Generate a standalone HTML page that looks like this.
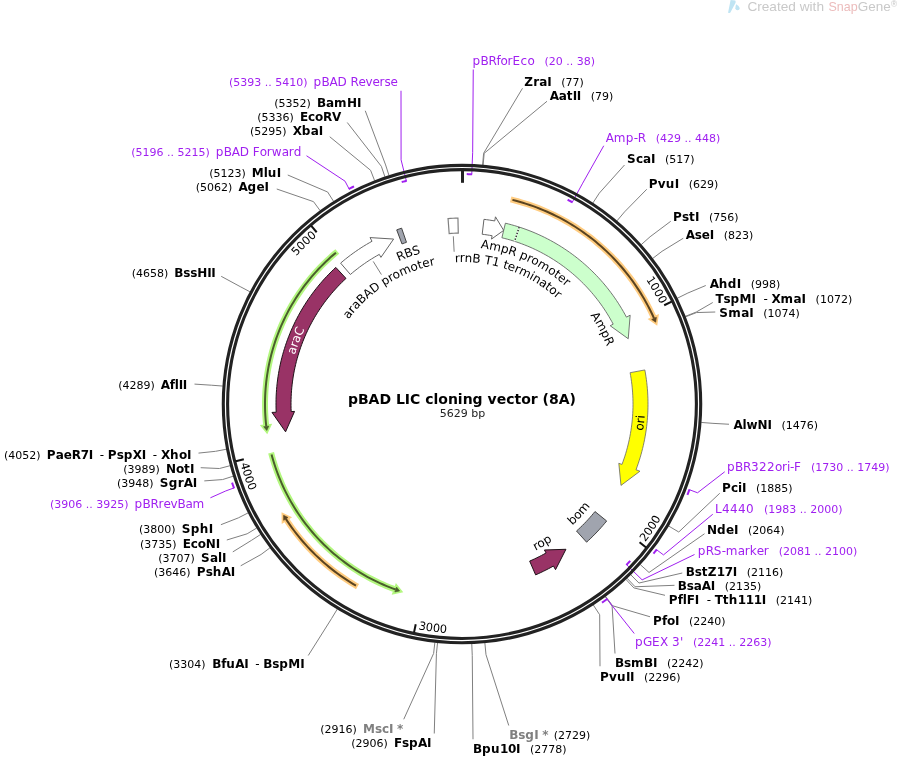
<!DOCTYPE html>
<html lang="en">
<head>
<meta charset="utf-8">
<title>pBAD LIC cloning vector (8A)</title>
<style>
html,body{margin:0;padding:0;background:#fff;}
body{width:898px;height:757px;overflow:hidden;}
svg{display:block;font-family:'DejaVu Sans','Liberation Sans',sans-serif;}
text{white-space:pre;}
</style>
</head>
<body>
<svg width="898" height="757" viewBox="0 0 898 757">
<rect width="898" height="757" fill="#fff"/>
<polyline points="522.5,88.25 483.61,153.28 482.6,164.99" fill="none" stroke="#808080" stroke-width="1"/>
<text x="524.14 533.14 539.14 547.14" y="86" font-size="12" fill="#000" font-weight="bold">ZraI</text>
<text x="561.14" y="86" font-size="11" fill="#000">(77)</text>
<polyline points="547,101.25 484.17,153.33 483.13,165.03" fill="none" stroke="#808080" stroke-width="1"/>
<text x="549.64 558.64 566.64 572.64 576.64" y="100" font-size="12" fill="#000" font-weight="bold">AatII</text>
<text x="590.64" y="100" font-size="11" fill="#000">(79)</text>
<polyline points="624.5,165 599.32,193.11 592.91,202.96" fill="none" stroke="#808080" stroke-width="1"/>
<text x="627.06 636.06 643.06 651.06" y="163" font-size="12" fill="#000" font-weight="bold">ScaI</text>
<text x="665.06" y="163" font-size="11" fill="#000">(517)</text>
<polyline points="646.75,189.25 624.55,211.88 616.97,220.85" fill="none" stroke="#808080" stroke-width="1"/>
<text x="648.82 657.82 665.82 674.82" y="188" font-size="12" fill="#000" font-weight="bold">PvuI</text>
<text x="688.82" y="188" font-size="11" fill="#000">(629)</text>
<polyline points="670.75,221.25 650.07,236.77 641.29,244.58" fill="none" stroke="#808080" stroke-width="1"/>
<text x="673.07 682.07 689.07 695.07" y="221" font-size="12" fill="#000" font-weight="bold">PstI</text>
<text x="709.07" y="221" font-size="11" fill="#000">(756)</text>
<polyline points="683.25,238.25 662.05,251.29 652.71,258.43" fill="none" stroke="#808080" stroke-width="1"/>
<text x="685.84 694.84 701.84 709.84" y="239" font-size="12" fill="#000" font-weight="bold">AseI</text>
<text x="723.84" y="239" font-size="11" fill="#000">(823)</text>
<polyline points="705.75,285.5 687.89,293.03 677.35,298.21" fill="none" stroke="#808080" stroke-width="1"/>
<text x="709.84 718.84 727.84 736.84" y="288" font-size="12" fill="#000" font-weight="bold">AhdI</text>
<text x="750.84" y="288" font-size="11" fill="#000">(998)</text>
<polyline points="712.75,302.5 696.28,312.04 685.34,316.34" fill="none" stroke="#808080" stroke-width="1"/>
<text x="715.62 723.62 730.62 739.62 751.62" y="303" font-size="12" fill="#000" font-weight="bold">TspMI</text>
<text x="763.62" y="303" font-size="12" fill="#000">-</text>
<text x="771.62 780.62 793.62 801.62" y="303" font-size="12" fill="#000" font-weight="bold">XmaI</text>
<text x="815.62" y="303" font-size="11" fill="#000">(1072)</text>
<polyline points="715.25,312 696.49,312.57 685.54,316.84" fill="none" stroke="#808080" stroke-width="1"/>
<text x="719.31 728.31 741.31 749.31" y="317" font-size="12" fill="#000" font-weight="bold">SmaI</text>
<text x="763.31" y="317" font-size="11" fill="#000">(1074)</text>
<polyline points="729,424.25 712.96,423.35 701.24,422.45" fill="none" stroke="#808080" stroke-width="1"/>
<text x="733.59 742.59 746.59 757.59 767.59" y="429" font-size="12" fill="#000" font-weight="bold">AlwNI</text>
<text x="781.59" y="429" font-size="11" fill="#000">(1476)</text>
<polyline points="719.75,493.25 678.75,532 668.63,526.03" fill="none" stroke="#808080" stroke-width="1"/>
<text x="722.07 731.07 738.07 742.07" y="492" font-size="12" fill="#000" font-weight="bold">PciI</text>
<text x="756.07" y="492" font-size="11" fill="#000">(1885)</text>
<polyline points="704.5,533.75 649.04,572.48 640.31,564.61" fill="none" stroke="#808080" stroke-width="1"/>
<text x="707.07 717.07 726.07 734.07" y="534" font-size="12" fill="#000" font-weight="bold">NdeI</text>
<text x="748.07" y="534" font-size="11" fill="#000">(2064)</text>
<polyline points="682.25,573 638.96,583.04 630.7,574.69" fill="none" stroke="#808080" stroke-width="1"/>
<text x="685.82 694.82 701.82 707.82 716.82 724.82 732.82" y="576" font-size="12" fill="#000" font-weight="bold">BstZ17I</text>
<text x="746.82" y="576" font-size="11" fill="#000">(2116)</text>
<polyline points="674.5,585.3 635.12,586.76 627.04,578.23" fill="none" stroke="#808080" stroke-width="1"/>
<text x="677.82 686.82 693.82 701.82 710.82" y="590" font-size="12" fill="#000" font-weight="bold">BsaAI</text>
<text x="724.82" y="590" font-size="11" fill="#000">(2135)</text>
<polyline points="665,595.3 633.89,587.91 625.87,579.33" fill="none" stroke="#808080" stroke-width="1"/>
<text x="668.82 677.82 682.82 686.82 694.82" y="604" font-size="12" fill="#000" font-weight="bold">PflFI</text>
<text x="706.82" y="604" font-size="12" fill="#000">-</text>
<text x="714.82 722.82 728.82 737.82 745.82 753.82 761.82" y="604" font-size="12" fill="#000" font-weight="bold">Tth111I</text>
<text x="775.82" y="604" font-size="11" fill="#000">(2141)</text>
<polyline points="650,616.75 612.57,605.75 605.54,596.33" fill="none" stroke="#808080" stroke-width="1"/>
<text x="653.07 662.07 667.07 675.07" y="625" font-size="12" fill="#000" font-weight="bold">PfoI</text>
<text x="689.07" y="625" font-size="11" fill="#000">(2240)</text>
<polyline points="615,653.5 612.12,606.08 605.11,596.65" fill="none" stroke="#808080" stroke-width="1"/>
<text x="615.07 624.07 631.07 644.07 653.07" y="667" font-size="12" fill="#000" font-weight="bold">BsmBI</text>
<text x="667.07" y="667" font-size="11" fill="#000">(2242)</text>
<polyline points="600,666.25 599.68,614.76 593.25,604.92" fill="none" stroke="#808080" stroke-width="1"/>
<text x="600.07 609.07 617.07 626.07 630.07" y="681" font-size="12" fill="#000" font-weight="bold">PvuII</text>
<text x="644.07" y="681" font-size="11" fill="#000">(2296)</text>
<polyline points="508.75,725.5 485.98,654.6 484.87,642.91" fill="none" stroke="#808080" stroke-width="1"/>
<text x="509.32 518.32 525.32 534.32 538.32 542.32" y="739" font-size="12" fill="#808080" font-weight="bold">BsgI *</text>
<text x="553.72" y="739" font-size="11" fill="#000">(2729)</text>
<polyline points="473,739.25 472.25,655.54 471.77,643.8" fill="none" stroke="#808080" stroke-width="1"/>
<text x="473.07 482.07 491.07 500.07 508.07 516.07" y="753" font-size="12" fill="#000" font-weight="bold">Bpu10I</text>
<text x="530.07" y="753" font-size="11" fill="#000">(2778)</text>
<polyline points="434.25,733.5 436.41,653.74 437.54,642.75" fill="none" stroke="#808080" stroke-width="1"/>
<text x="351.25" y="747" font-size="11" fill="#000">(2906)</text>
<text x="393.88 401.88 408.88 417.88 426.88" y="747" font-size="12" fill="#000" font-weight="bold">FspAI</text>
<polyline points="403.75,719.25 433.62,653.44 434.87,642.46" fill="none" stroke="#808080" stroke-width="1"/>
<text x="320.25" y="733" font-size="11" fill="#000">(2916)</text>
<text x="362.88 374.88 381.88 388.88 392.88 396.88" y="733" font-size="12" fill="#808080" font-weight="bold">MscI *</text>
<polyline points="308.25,655.5 331.58,618.51 337.32,609.06" fill="none" stroke="#808080" stroke-width="1"/>
<text x="169.07" y="668" font-size="11" fill="#000">(3304)</text>
<text x="212.15 221.15 226.15 235.15 244.15" y="668" font-size="12" fill="#000" font-weight="bold">BfuAI</text>
<text x="255.15" y="668" font-size="12" fill="#000">-</text>
<text x="263.35 272.35 279.35 288.35 300.35" y="668" font-size="12" fill="#000" font-weight="bold">BspMI</text>
<polyline points="240.7,565.8 261.07,554.48 269.92,547.86" fill="none" stroke="#808080" stroke-width="1"/>
<text x="154" y="576" font-size="11" fill="#000">(3646)</text>
<text x="196.63 205.63 212.63 221.63 230.63" y="576" font-size="12" fill="#000" font-weight="bold">PshAI</text>
<polyline points="232.8,551.9 251.3,540.46 260.58,534.46" fill="none" stroke="#808080" stroke-width="1"/>
<text x="158.25" y="562" font-size="11" fill="#000">(3707)</text>
<text x="200.88 209.88 217.88 221.88" y="562" font-size="12" fill="#000" font-weight="bold">SalI</text>
<polyline points="226.8,540 247.14,533.81 256.6,528.1" fill="none" stroke="#808080" stroke-width="1"/>
<text x="140" y="548" font-size="11" fill="#000">(3735)</text>
<text x="182.63 190.63 197.63 205.63 215.63" y="548" font-size="12" fill="#000" font-weight="bold">EcoNI</text>
<polyline points="220.9,524.7 238.3,517.9 248.15,512.88" fill="none" stroke="#808080" stroke-width="1"/>
<text x="139" y="533" font-size="11" fill="#000">(3800)</text>
<text x="181.63 190.63 199.63 208.63" y="533" font-size="12" fill="#000" font-weight="bold">SphI</text>
<polyline points="204.3,480.9 222.63,479.56 233.17,476.23" fill="none" stroke="#808080" stroke-width="1"/>
<text x="117" y="487" font-size="11" fill="#000">(3948)</text>
<text x="159.63 168.63 177.63 183.63 192.63" y="487" font-size="12" fill="#000" font-weight="bold">SgrAI</text>
<polyline points="200.7,467.7 219.42,468.53 230.1,465.69" fill="none" stroke="#808080" stroke-width="1"/>
<text x="123.25" y="473" font-size="11" fill="#000">(3989)</text>
<text x="165.88 175.88 183.88 189.88" y="473" font-size="12" fill="#000" font-weight="bold">NotI</text>
<polyline points="198.5,453.1 215.49,451.32 226.34,449.24" fill="none" stroke="#808080" stroke-width="1"/>
<text x="4" y="459" font-size="11" fill="#000">(4052)</text>
<text x="46.63 55.63 63.63 71.63 80.63 88.63" y="459" font-size="12" fill="#000" font-weight="bold">PaeR7I</text>
<text x="99.63" y="459" font-size="12" fill="#000">-</text>
<text x="107.83 116.83 123.83 132.83 141.83" y="459" font-size="12" fill="#000" font-weight="bold">PspXI</text>
<text x="152.83" y="459" font-size="12" fill="#000">-</text>
<text x="161.03 170.03 179.03 187.03" y="459" font-size="12" fill="#000" font-weight="bold">XhoI</text>
<polyline points="194.5,384.1 211.71,385.23 222.73,386.05" fill="none" stroke="#808080" stroke-width="1"/>
<text x="118.2" y="389" font-size="11" fill="#000">(4289)</text>
<text x="160.83 169.83 174.83 178.83 182.83" y="389" font-size="12" fill="#000" font-weight="bold">AflII</text>
<polyline points="221.2,276.3 240.18,286.6 249.94,291.77" fill="none" stroke="#808080" stroke-width="1"/>
<text x="131.7" y="277" font-size="11" fill="#000">(4658)</text>
<text x="174.33 183.33 190.33 197.33 207.33 211.33" y="277" font-size="12" fill="#000" font-weight="bold">BssHII</text>
<polyline points="276.75,189 313.54,201.66 320.07,210.57" fill="none" stroke="#808080" stroke-width="1"/>
<text x="195.8" y="191" font-size="11" fill="#000">(5062)</text>
<text x="238.43 247.43 256.43 264.43" y="191" font-size="12" fill="#000" font-weight="bold">AgeI</text>
<polyline points="287.75,175 327.65,192.03 333.57,201.37" fill="none" stroke="#808080" stroke-width="1"/>
<text x="209.2" y="177" font-size="11" fill="#000">(5123)</text>
<text x="251.83 263.83 267.83 276.83" y="177" font-size="12" fill="#000" font-weight="bold">MluI</text>
<polyline points="329.75,136.75 370.58,170.29 374.6,180.58" fill="none" stroke="#808080" stroke-width="1"/>
<text x="250" y="135" font-size="11" fill="#000">(5295)</text>
<text x="292.63 301.63 310.63 318.63" y="135" font-size="12" fill="#000" font-weight="bold">XbaI</text>
<polyline points="347.25,122.5 381.37,166.35 384.92,176.82" fill="none" stroke="#808080" stroke-width="1"/>
<text x="257.25" y="121" font-size="11" fill="#000">(5336)</text>
<text x="299.88 307.88 314.88 322.88 331.88" y="121" font-size="12" fill="#000" font-weight="bold">EcoRV</text>
<polyline points="365.25,110.75 385.62,164.95 388.99,175.48" fill="none" stroke="#808080" stroke-width="1"/>
<text x="274.25" y="107" font-size="11" fill="#000">(5352)</text>
<text x="316.88 325.88 333.88 346.88 356.88" y="107" font-size="12" fill="#000" font-weight="bold">BamHI</text>
<polyline points="466.73,174.1 468.54,174.14 470.35,174.2 472.15,174.27" fill="none" stroke="#a020f0" stroke-width="2"/>
<polyline points="473.25,69.5 472.67,152.58 471.75,174.26" fill="none" stroke="#a020f0" stroke-width="1"/>
<text x="472.52 480.52 488.52 496.52 500.52 507.52 512.52 520.52 527.52" y="65" font-size="12" fill="#a020f0">pBRforEco</text>
<text x="544.52" y="65" font-size="11" fill="#a020f0">(20 .. 38)</text>
<polyline points="567.62,199.74 569.3,200.61 570.97,201.5 572.63,202.41" fill="none" stroke="#a020f0" stroke-width="2"/>
<polyline points="603.75,145.75 582.69,183.17 572.28,202.21" fill="none" stroke="#a020f0" stroke-width="1"/>
<text x="605.81 613.81 625.81 633.81 637.81" y="142" font-size="12" fill="#a020f0">Amp-R</text>
<text x="655.81" y="142" font-size="11" fill="#a020f0">(429 .. 448)</text>
<polyline points="689.54,489.34 688.84,491.19 688.12,493.04 687.38,494.89" fill="none" stroke="#a020f0" stroke-width="2"/>
<polyline points="724.75,471.75 697.54,492.78 689.4,489.71" fill="none" stroke="#a020f0" stroke-width="1"/>
<text x="727.07 735.07 743.07 751.07 759.07 767.07 775.07 782.07 787.07 790.07 794.07" y="471" font-size="12" fill="#a020f0">pBR322ori-F</text>
<text x="811.07" y="471" font-size="11" fill="#a020f0">(1730 .. 1749)</text>
<polyline points="656.76,549.37 655.68,550.81 654.58,552.24 653.48,553.67" fill="none" stroke="#a020f0" stroke-width="2"/>
<polyline points="712.75,514.25 663.49,554.9 656.52,549.69" fill="none" stroke="#a020f0" stroke-width="1"/>
<text x="714.98 721.98 729.98 737.98 745.98" y="513" font-size="12" fill="#a020f0">L4440</text>
<text x="763.98" y="513" font-size="11" fill="#a020f0">(1983 .. 2000)</text>
<polyline points="630.24,560.88 628.94,562.26 627.64,563.63 626.32,564.98" fill="none" stroke="#a020f0" stroke-width="2"/>
<polyline points="694.5,554.5 642.13,579.86 626.6,564.7" fill="none" stroke="#a020f0" stroke-width="1"/>
<text x="697.82 705.82 713.82 721.82 725.82 737.82 744.82 749.82 756.82 763.82" y="555" font-size="12" fill="#a020f0">pRS-marker</text>
<text x="778.82" y="555" font-size="11" fill="#a020f0">(2081 .. 2100)</text>
<polyline points="607.47,598.7 606.11,599.71 604.74,600.7 603.37,601.69 601.99,602.67" fill="none" stroke="#a020f0" stroke-width="2"/>
<polyline points="634.25,633.5 612.34,605.91 607.15,598.94" fill="none" stroke="#a020f0" stroke-width="1"/>
<text x="635.07 643.07 652.07 660.07 668.07 672.07 680.07" y="646" font-size="12" fill="#a020f0">pGEX 3&#39;</text>
<text x="693.07" y="646" font-size="11" fill="#a020f0">(2241 .. 2263)</text>
<polyline points="234.08,488.31 233.39,486.44 232.73,484.57 232.08,482.7" fill="none" stroke="#a020f0" stroke-width="2"/>
<polyline points="210.4,497.8 225.77,490.94 233.94,487.93" fill="none" stroke="#a020f0" stroke-width="1"/>
<text x="50" y="508" font-size="11" fill="#a020f0">(3906 .. 3925)</text>
<text x="134.61 142.61 150.61 158.61 163.61 170.61 177.61 185.61 192.61" y="508" font-size="12" fill="#a020f0">pBRrevBam</text>
<polyline points="348.72,189.07 350.48,188.15 352.24,187.25 354.02,186.36" fill="none" stroke="#a020f0" stroke-width="2"/>
<polyline points="306.5,155.75 345.03,181.18 349.07,188.88" fill="none" stroke="#a020f0" stroke-width="1"/>
<text x="131.2" y="156" font-size="11" fill="#a020f0">(5196 .. 5215)</text>
<text x="215.81 223.81 231.81 239.81 248.81 252.81 259.81 266.81 271.81 281.81 288.81 293.81" y="156" font-size="12" fill="#a020f0">pBAD Forward</text>
<polyline points="401.72,182.09 403.39,181.64 405.05,181.21 406.72,180.79" fill="none" stroke="#a020f0" stroke-width="2"/>
<polyline points="401,90.75 401.08,159.83 406.33,180.89" fill="none" stroke="#a020f0" stroke-width="1"/>
<text x="229" y="86" font-size="11" fill="#a020f0">(5393 .. 5410)</text>
<text x="313.61 321.61 329.61 337.61 346.61 350.61 358.61 365.61 372.61 379.61 384.61 390.61" y="86" font-size="12" fill="#a020f0">pBAD Reverse</text>
<circle cx="462.0" cy="404.05" r="238.7" fill="none" stroke="#222" stroke-width="3.1"/>
<circle cx="462.0" cy="404.05" r="234.4" fill="none" stroke="#222" stroke-width="3.1"/>
<line x1="462.5" y1="170.7" x2="462.5" y2="182.8" stroke="#222" stroke-width="3"/>
<line x1="671.65" y1="301.59" x2="664.2" y2="305.23" stroke="#111" stroke-width="2"/>
<path id="tk1000" d="M549.96,200.16 A222.04999999999998,222.04999999999998 0 0 1 660.43,304.4" fill="none"/>
<text font-size="11.3" fill="#000" text-anchor="end"><textPath href="#tk1000" startOffset="100%">1000</textPath></text>
<line x1="646.11" y1="547.42" x2="639.56" y2="542.32" stroke="#111" stroke-width="2"/>
<path id="tk2000" d="M645.16,542.25 A229.45,229.45 0 0 0 691.14,392.18" fill="none"/>
<text font-size="11.3" fill="#000" text-anchor="start"><textPath href="#tk2000" startOffset="0">2000</textPath></text>
<line x1="414.03" y1="632.42" x2="415.73" y2="624.29" stroke="#111" stroke-width="2"/>
<path id="tk3000" d="M418.26,629.29 A229.45,229.45 0 0 0 573.28,604.71" fill="none"/>
<text font-size="11.3" fill="#000" text-anchor="start"><textPath href="#tk3000" startOffset="0">3000</textPath></text>
<line x1="235.76" y1="461.22" x2="243.81" y2="459.19" stroke="#111" stroke-width="2"/>
<path id="tk4000" d="M240.43,463.65 A229.45,229.45 0 0 0 330.58,592.13" fill="none"/>
<text font-size="11.3" fill="#000" text-anchor="start"><textPath href="#tk4000" startOffset="0">4000</textPath></text>
<line x1="311.3" y1="225.89" x2="316.66" y2="232.23" stroke="#111" stroke-width="2"/>
<path id="tk5000" d="M242.78,368.73 A222.04999999999998,222.04999999999998 0 0 1 316.77,236.08" fill="none"/>
<text font-size="11.3" fill="#000" text-anchor="end"><textPath href="#tk5000" startOffset="100%">5000</textPath></text>
<path d="M510.69,199.46 L514.23,200.34 L517.74,201.27 L521.24,202.27 L524.73,203.32 L528.19,204.44 L531.64,205.61 L535.06,206.85 L538.46,208.14 L541.84,209.5 L545.2,210.91 L548.53,212.38 L551.83,213.9 L555.11,215.48 L558.36,217.12 L561.58,218.82 L564.77,220.57 L567.93,222.38 L571.06,224.24 L574.15,226.15 L577.21,228.12 L580.24,230.14 L583.23,232.21 L586.19,234.34 L589.11,236.51 L591.99,238.74 L594.83,241.01 L597.63,243.33 L600.39,245.7 L603.11,248.12 L605.79,250.59 L608.42,253.1 L611.02,255.66 L613.56,258.26 L616.06,260.9 L618.52,263.59 L620.92,266.32 L623.28,269.09 L625.59,271.9 L627.86,274.75 L630.07,277.64 L632.23,280.57 L634.34,283.54 L636.4,286.54 L638.41,289.57 L640.37,292.64 L642.27,295.75 L644.11,298.88 L645.91,302.05 L647.65,305.25 L649.33,308.47 L650.95,311.73 L652.52,315.02 L654.03,318.33" fill="none" stroke="#ffcc80" stroke-width="6" stroke-linecap="butt"/>
<path d="M656.41,317.27 L655.71,322.18 L651.66,319.39Z" fill="#ffcc80" stroke="#ffcc80" stroke-width="4" stroke-linejoin="miter"/>
<path d="M512.44,199.89 L515.93,200.78 L519.41,201.74 L522.87,202.75 L526.31,203.83 L529.74,204.96 L533.14,206.15 L536.52,207.4 L539.88,208.7 L543.22,210.07 L546.54,211.49 L549.82,212.97 L553.09,214.5 L556.32,216.09 L559.53,217.73 L562.71,219.43 L565.86,221.19 L568.98,223 L572.07,224.86 L575.13,226.77 L578.15,228.74 L581.14,230.75 L584.09,232.82 L587.01,234.94 L589.89,237.11 L592.74,239.32 L595.54,241.59 L598.31,243.9 L601.03,246.26 L603.72,248.67 L606.36,251.12 L608.96,253.62 L611.52,256.16 L614.03,258.75 L616.5,261.38 L618.92,264.05 L621.3,266.76 L623.63,269.51 L625.91,272.3 L628.15,275.13 L630.33,278 L632.47,280.9 L634.56,283.84 L636.59,286.82 L638.58,289.83 L640.51,292.87 L642.39,295.95 L644.22,299.06 L645.99,302.2 L647.71,305.37 L649.37,308.57 L650.98,311.79 L652.54,315.05 L654.03,318.33" fill="none" stroke="#5a4320" stroke-width="2"/>
<path d="M656.41,317.27 L655.71,322.18 L651.66,319.39Z" fill="#5a4320" stroke="#5a4320" stroke-width="0.6"/>
<path d="M357.51,586.56 L354.44,584.76 L351.41,582.92 L348.4,581.03 L345.43,579.08 L342.49,577.09 L339.58,575.05 L336.71,572.95 L333.87,570.81 L331.07,568.62 L328.31,566.39 L325.59,564.11 L322.91,561.78 L320.26,559.41 L317.66,556.99 L315.09,554.53 L312.57,552.03 L310.09,549.48 L307.66,546.9 L305.27,544.27 L302.92,541.6 L300.62,538.89 L298.37,536.15 L296.16,533.37 L294,530.55 L291.88,527.69 L289.82,524.8 L287.8,521.87 L285.84,518.91" fill="none" stroke="#ffcc80" stroke-width="6" stroke-linecap="butt"/>
<path d="M283.66,520.33 L283.58,515.37 L288.02,517.49Z" fill="#ffcc80" stroke="#ffcc80" stroke-width="4" stroke-linejoin="miter"/>
<path d="M355.95,585.65 L352.85,583.8 L349.77,581.9 L346.73,579.94 L343.72,577.93 L340.74,575.87 L337.81,573.76 L334.91,571.6 L332.04,569.39 L329.22,567.13 L326.43,564.82 L323.69,562.47 L320.98,560.06 L318.32,557.61 L315.7,555.12 L313.12,552.58 L310.59,550 L308.1,547.37 L305.66,544.7 L303.26,541.99 L300.91,539.24 L298.61,536.45 L296.36,533.62 L294.15,530.75 L292,527.85 L289.89,524.9 L287.84,521.93 L285.84,518.91" fill="none" stroke="#5a4320" stroke-width="2"/>
<path d="M283.66,520.33 L283.58,515.37 L288.02,517.49Z" fill="#5a4320" stroke="#5a4320" stroke-width="0.6"/>
<path d="M337.34,251.51 L334.73,253.68 L332.16,255.89 L329.63,258.15 L327.13,260.45 L324.68,262.8 L322.27,265.18 L319.9,267.61 L317.57,270.08 L315.28,272.59 L313.04,275.13 L310.84,277.72 L308.69,280.34 L306.58,283 L304.52,285.7 L302.5,288.43 L300.53,291.19 L298.61,293.99 L296.74,296.82 L294.92,299.68 L293.15,302.58 L291.42,305.5 L289.75,308.45 L288.13,311.43 L286.56,314.44 L285.04,317.48 L283.58,320.54 L282.17,323.62 L280.81,326.73 L279.5,329.87 L278.25,333.02 L277.05,336.2 L275.91,339.39 L274.83,342.61 L273.8,345.84 L272.82,349.09 L271.9,352.36 L271.04,355.64 L270.24,358.94 L269.49,362.25 L268.8,365.57 L268.16,368.9 L267.58,372.25 L267.07,375.6 L266.6,378.96 L266.2,382.33 L265.86,385.71 L265.57,389.09 L265.34,392.47 L265.17,395.86 L265.06,399.25 L265,402.65 L265.01,406.04 L265.07,409.43 L265.2,412.83 L265.38,416.21 L265.61,419.6 L265.91,422.98 L266.27,426.35" fill="none" stroke="#b3f77f" stroke-width="6" stroke-linecap="butt"/>
<path d="M263.68,426.65 L266.79,430.52 L268.85,426.06Z" fill="#b3f77f" stroke="#b3f77f" stroke-width="4" stroke-linejoin="miter"/>
<path d="M335.95,252.65 L333.34,254.87 L330.77,257.12 L328.24,259.42 L325.75,261.77 L323.3,264.16 L320.89,266.59 L318.52,269.06 L316.2,271.57 L313.92,274.12 L311.69,276.71 L309.5,279.34 L307.35,282.01 L305.26,284.71 L303.21,287.45 L301.21,290.23 L299.26,293.04 L297.35,295.88 L295.5,298.76 L293.7,301.67 L291.94,304.6 L290.24,307.57 L288.59,310.57 L286.99,313.6 L285.45,316.65 L283.96,319.73 L282.52,322.83 L281.14,325.96 L279.81,329.12 L278.53,332.29 L277.32,335.49 L276.15,338.71 L275.05,341.94 L274,345.2 L273,348.47 L272.07,351.76 L271.19,355.07 L270.36,358.39 L269.6,361.73 L268.89,365.07 L268.25,368.43 L267.66,371.8 L267.13,375.18 L266.65,378.57 L266.24,381.97 L265.89,385.37 L265.59,388.78 L265.36,392.19 L265.18,395.61 L265.06,399.03 L265.01,402.45 L265.01,405.87 L265.07,409.29 L265.19,412.71 L265.37,416.13 L265.61,419.54 L265.91,422.95 L266.27,426.35" fill="none" stroke="#4a5e2c" stroke-width="2"/>
<path d="M263.68,426.65 L266.79,430.52 L268.85,426.06Z" fill="#4a5e2c" stroke="#4a5e2c" stroke-width="0.6"/>
<path d="M271.1,452.7 L271.96,455.97 L272.88,459.22 L273.86,462.46 L274.89,465.68 L275.97,468.88 L277.11,472.06 L278.31,475.22 L279.55,478.36 L280.86,481.48 L282.21,484.58 L283.62,487.65 L285.08,490.7 L286.59,493.72 L288.16,496.72 L289.77,499.69 L291.44,502.63 L293.15,505.54 L294.92,508.42 L296.73,511.27 L298.6,514.09 L300.51,516.88 L302.47,519.63 L304.48,522.35 L306.53,525.04 L308.63,527.68 L310.77,530.3 L312.96,532.87 L315.19,535.41 L317.47,537.91 L319.78,540.37 L322.14,542.79 L324.54,545.17 L326.98,547.51 L329.47,549.8 L331.99,552.05 L334.54,554.26 L337.14,556.43 L339.77,558.55 L342.44,560.62 L345.14,562.65 L347.88,564.63 L350.65,566.56 L353.46,568.45 L356.29,570.29 L359.16,572.08 L362.06,573.82 L364.99,575.51 L367.94,577.15 L370.93,578.73 L373.94,580.27 L376.97,581.76 L380.03,583.19 L383.12,584.57 L386.23,585.89 L389.36,587.17 L392.51,588.39 L395.68,589.55" fill="none" stroke="#b3f77f" stroke-width="6" stroke-linecap="butt"/>
<path d="M394.81,592 L399.65,590.92 L396.56,587.1Z" fill="#b3f77f" stroke="#b3f77f" stroke-width="4" stroke-linejoin="miter"/>
<path d="M271.55,454.44 L272.45,457.73 L273.41,461 L274.43,464.26 L275.49,467.49 L276.62,470.71 L277.8,473.9 L279.04,477.08 L280.33,480.23 L281.67,483.37 L283.07,486.47 L284.52,489.56 L286.03,492.61 L287.59,495.64 L289.2,498.65 L290.86,501.62 L292.57,504.57 L294.34,507.48 L296.15,510.37 L298.02,513.22 L299.93,516.04 L301.89,518.83 L303.9,521.58 L305.96,524.3 L308.06,526.98 L310.21,529.63 L312.41,532.23 L314.65,534.8 L316.93,537.33 L319.26,539.82 L321.63,542.27 L324.04,544.68 L326.49,547.04 L328.99,549.36 L331.52,551.64 L334.09,553.88 L336.7,556.07 L339.35,558.21 L342.04,560.31 L344.76,562.36 L347.51,564.37 L350.3,566.32 L353.13,568.23 L355.98,570.09 L358.87,571.9 L361.79,573.66 L364.74,575.37 L367.72,577.02 L370.73,578.63 L373.76,580.18 L376.82,581.68 L379.9,583.13 L383.01,584.52 L386.15,585.86 L389.3,587.15 L392.48,588.38 L395.68,589.55" fill="none" stroke="#4a5e2c" stroke-width="2"/>
<path d="M394.81,592 L399.65,590.92 L396.56,587.1Z" fill="#4a5e2c" stroke="#4a5e2c" stroke-width="0.6"/>
<path d="M335.81,267.4 L333.45,269.62 L331.14,271.87 L328.86,274.17 L326.62,276.5 L324.43,278.87 L322.27,281.28 L320.16,283.73 L318.09,286.22 L316.06,288.73 L314.08,291.29 L312.14,293.88 L310.25,296.5 L308.4,299.15 L306.6,301.84 L304.85,304.56 L303.14,307.3 L301.48,310.08 L299.88,312.88 L298.32,315.71 L296.8,318.57 L295.34,321.46 L293.93,324.37 L292.57,327.3 L291.26,330.26 L290.01,333.24 L288.8,336.24 L287.65,339.26 L286.55,342.3 L285.5,345.36 L284.51,348.43 L283.57,351.53 L282.68,354.64 L281.85,357.76 L281.07,360.9 L280.35,364.05 L279.68,367.21 L279.07,370.39 L278.51,373.57 L278.01,376.77 L277.57,379.97 L277.17,383.18 L276.84,386.4 L276.56,389.62 L276.34,392.84 L276.17,396.07 L276.06,399.3 L276.01,402.54 L276.01,405.77 L276.07,409 L276.18,412.23 L271.98,412.42 L285.57,431.8 L294.56,411.42 L291.17,411.57 L291.06,408.6 L291.01,405.63 L291.01,402.66 L291.06,399.69 L291.16,396.71 L291.31,393.75 L291.52,390.78 L291.77,387.82 L292.08,384.86 L292.44,381.91 L292.85,378.97 L293.31,376.03 L293.82,373.1 L294.39,370.18 L295,367.28 L295.67,364.38 L296.38,361.49 L297.14,358.62 L297.96,355.76 L298.82,352.92 L299.74,350.09 L300.7,347.28 L301.71,344.48 L302.77,341.7 L303.88,338.95 L305.03,336.21 L306.24,333.49 L307.49,330.79 L308.78,328.12 L310.13,325.47 L311.52,322.84 L312.95,320.23 L314.43,317.66 L315.95,315.1 L317.52,312.58 L319.13,310.08 L320.79,307.61 L322.49,305.17 L324.23,302.76 L326.01,300.38 L327.83,298.03 L329.69,295.72 L331.6,293.43 L333.54,291.18 L335.52,288.97 L337.54,286.79 L339.6,284.64 L341.69,282.53 L343.82,280.46 L345.99,278.42Z" fill="#993366" stroke="#1f1218" stroke-width="1" stroke-linejoin="miter" />
<path id="lp1" d="M372.49,553.61 A174.3,174.3 0 0 1 494.96,232.89" fill="none" stroke="none"/>
<text font-size="12" fill="#fff" text-anchor="middle"><textPath href="#lp1" startOffset="50%">araC</textPath></text>
<path d="M340.61,263.12 L343.05,261.06 L345.53,259.03 L348.03,257.05 L350.58,255.12 L353.15,253.23 L355.76,251.38 L358.4,249.58 L361.06,247.82 L363.76,246.11 L366.49,244.44 L369.25,242.83 L372.03,241.26 L370,237.58 L393.62,239.06 L380.93,257.36 L379.29,254.39 L376.73,255.83 L374.19,257.32 L371.69,258.85 L369.2,260.42 L366.75,262.03 L364.33,263.69 L361.93,265.39 L359.56,267.13 L357.23,268.91 L354.92,270.73 L352.64,272.59 L350.4,274.49Z" fill="#ffffff" stroke="#666" stroke-width="1" stroke-linejoin="miter" />
<line x1="373.22" y1="261.42" x2="381.41" y2="274.58" stroke="#808080" stroke-width="1"/>
<path id="lp2" d="M330.9,457.29 A141.5,141.5 0 0 1 566.99,309.18" fill="none" stroke="none"/>
<text font-size="12" fill="#000" text-anchor="middle"><textPath href="#lp2" startOffset="50%">araBAD promoter</textPath></text>
<path d="M396.71,229.89 L399.15,228.99 L401.6,228.13 L406.47,242.32 L404.22,243.11 L401.97,243.93Z" fill="#a0a4ae" stroke="#444" stroke-width="1"/>
<path id="lp3" d="M307.89,430.12 A156.3,156.3 0 0 1 597.9,326.85" fill="none" stroke="none"/>
<text font-size="12" fill="#000" text-anchor="middle"><textPath href="#lp3" startOffset="50%">RBS</textPath></text>
<path d="M448.05,218.57 L450.52,218.4 L453,218.27 L455.47,218.16 L457.94,218.09 L458.27,233.09 L455.99,233.16 L453.72,233.25 L451.45,233.38 L449.18,233.53Z" fill="#ffffff" stroke="#808080" stroke-width="1.2"/>
<line x1="453.32" y1="236.27" x2="454.13" y2="251.75" stroke="#808080" stroke-width="1"/>
<path id="lp4" d="M338.65,333.69 A142,142 0 0 1 601.97,427.98" fill="none" stroke="none"/>
<text font-size="12" fill="#000" text-anchor="middle"><textPath href="#lp4" startOffset="50%">rrnB T1 terminator</textPath></text>
<path d="M483.96,219.35 L486.66,219.69 L489.36,220.07 L492.05,220.49 L494.74,220.95 L495.47,216.82 L503.68,230.38 L491.5,239.07 L492.1,235.72 L489.63,235.3 L487.15,234.91 L484.67,234.56 L482.19,234.25Z" fill="#ffffff" stroke="#666" stroke-width="1" stroke-linejoin="miter" />
<path id="lp5" d="M332.15,315.8 A157,157 0 0 1 614.2,442.56" fill="none" stroke="none"/>
<text font-size="12" fill="#000" text-anchor="middle"><textPath href="#lp5" startOffset="50%">AmpR promoter</textPath></text>
<path d="M505.4,223.18 L508.53,223.96 L511.64,224.8 L514.74,225.68 L517.83,226.63 L520.89,227.62 L523.94,228.67 L526.97,229.77 L529.98,230.92 L532.97,232.12 L535.94,233.38 L538.88,234.68 L541.81,236.04 L544.71,237.45 L547.58,238.91 L550.43,240.42 L553.25,241.97 L556.05,243.58 L558.81,245.23 L561.55,246.93 L564.26,248.68 L566.93,250.48 L569.58,252.32 L572.19,254.2 L574.77,256.14 L577.32,258.11 L579.83,260.13 L582.31,262.2 L584.74,264.3 L587.15,266.45 L589.51,268.64 L591.84,270.87 L594.13,273.14 L596.38,275.45 L598.59,277.79 L600.75,280.18 L602.88,282.6 L604.96,285.06 L607,287.56 L609,290.09 L610.95,292.65 L612.86,295.25 L614.72,297.88 L616.54,300.54 L618.31,303.23 L620.03,305.96 L621.71,308.71 L623.34,311.49 L624.92,314.3 L626.45,317.14 L630.16,315.18 L628.24,338.76 L610.18,325.74 L613.18,324.15 L611.78,321.54 L610.32,318.96 L608.83,316.4 L607.29,313.87 L605.7,311.37 L604.08,308.89 L602.41,306.44 L600.69,304.02 L598.94,301.64 L597.14,299.28 L595.31,296.95 L593.43,294.66 L591.52,292.4 L589.56,290.17 L587.57,287.98 L585.54,285.82 L583.47,283.7 L581.37,281.61 L579.23,279.56 L577.06,277.55 L574.85,275.57 L572.6,273.64 L570.33,271.74 L568.02,269.88 L565.68,268.06 L563.31,266.29 L560.9,264.55 L558.47,262.86 L556.01,261.21 L553.52,259.6 L551,258.04 L548.46,256.52 L545.89,255.04 L543.3,253.61 L540.68,252.23 L538.04,250.88 L535.37,249.59 L532.68,248.34 L529.97,247.14 L527.25,245.99 L524.5,244.88 L521.73,243.82 L518.94,242.81 L516.14,241.85 L513.32,240.93 L510.49,240.07 L507.64,239.25 L504.78,238.49 L501.9,237.77Z" fill="#ccffcc" stroke="#555" stroke-width="0.8" stroke-linejoin="miter" />
<line x1="519.19" y1="227.06" x2="514.58" y2="241.33" stroke="#fff" stroke-width="1.3"/>
<line x1="519.19" y1="227.06" x2="514.58" y2="241.33" stroke="#111" stroke-width="1.3" stroke-dasharray="1.4,1.6"/>
<path id="lp6" d="M413.53,255.77 A156,156 0 0 1 558.26,526.81" fill="none" stroke="none"/>
<text font-size="12" fill="#000" text-anchor="middle"><textPath href="#lp6" startOffset="50%">AmpR</textPath></text>
<path d="M644.84,369.94 L645.4,373.06 L645.9,376.19 L646.35,379.33 L646.74,382.47 L647.09,385.62 L647.37,388.78 L647.61,391.94 L647.78,395.11 L647.91,398.28 L647.98,401.45 L648,404.62 L647.96,407.79 L647.87,410.96 L647.73,414.12 L647.53,417.29 L647.28,420.45 L646.97,423.6 L646.61,426.75 L646.2,429.9 L645.73,433.03 L645.21,436.16 L644.63,439.28 L644.01,442.39 L643.33,445.48 L642.59,448.57 L641.81,451.64 L640.97,454.7 L640.08,457.74 L639.14,460.77 L638.15,463.78 L637.1,466.77 L636.01,469.75 L639.94,471.23 L620.99,485.41 L618.8,463.25 L621.98,464.45 L622.98,461.72 L623.94,458.96 L624.86,456.2 L625.72,453.41 L626.54,450.61 L627.31,447.8 L628.03,444.98 L628.7,442.14 L629.33,439.3 L629.9,436.44 L630.43,433.57 L630.91,430.7 L631.34,427.81 L631.72,424.92 L632.05,422.03 L632.33,419.13 L632.57,416.22 L632.75,413.31 L632.88,410.4 L632.97,407.49 L633,404.57 L632.98,401.66 L632.92,398.74 L632.8,395.83 L632.64,392.92 L632.42,390.01 L632.16,387.11 L631.85,384.21 L631.48,381.32 L631.07,378.43 L630.61,375.56 L630.1,372.69Z" fill="#ffff00" stroke="#666" stroke-width="0.8" stroke-linejoin="miter" />
<path id="lp7" d="M474.77,586.6 A183,183 0 0 0 512.44,228.14" fill="none" stroke="none"/>
<text font-size="12" fill="#000" text-anchor="middle"><textPath href="#lp7" startOffset="50%">ori</textPath></text>
<path d="M606.65,520.98 L604.8,523.24 L602.91,525.46 L600.98,527.66 L599.02,529.83 L597.03,531.97 L595.01,534.07 L592.95,536.14 L590.86,538.19 L588.73,540.19 L586.58,542.17 L576.53,531.03 L578.51,529.21 L580.46,527.37 L582.39,525.49 L584.28,523.59 L586.14,521.65 L587.97,519.69 L589.77,517.69 L591.54,515.67 L593.28,513.62 L594.99,511.55Z" fill="#a0a4ae" stroke="#444" stroke-width="1"/>
<path id="lp8" d="M372.44,541.44 A164,164 0 0 0 593.15,305.58" fill="none" stroke="none"/>
<text font-size="12" fill="#000" text-anchor="middle"><textPath href="#lp8" startOffset="50%">bom</textPath></text>
<path d="M535.61,574.87 L538.21,573.72 L540.8,572.53 L543.37,571.31 L545.92,570.04 L548.45,568.74 L550.96,567.4 L553.45,566.01 L555.52,569.67 L565.94,549.29 L544.41,549.99 L546.08,552.95 L543.79,554.22 L541.48,555.46 L539.15,556.66 L536.81,557.82 L534.45,558.95 L532.07,560.04 L529.67,561.09Z" fill="#993366" stroke="#1f1218" stroke-width="1" stroke-linejoin="miter" />
<path id="lp9" d="M336.37,509.47 A164,164 0 0 0 616.11,347.96" fill="none" stroke="none"/>
<text font-size="12" fill="#000" text-anchor="middle"><textPath href="#lp9" startOffset="50%">rop</textPath></text>
<text x="461.9" y="404.2" font-size="14" font-weight="bold" text-anchor="middle" fill="#000">pBAD LIC cloning vector (8A)</text>
<text x="462.5" y="417" font-size="11" text-anchor="middle" fill="#222">5629 bp</text>
<g id="wm" font-family="'Liberation Sans',sans-serif" font-size="13.2">
<path d="M730.6,0 L735.3,0.6 Q736.2,2 735.2,3.6 L730.4,12.4 Q728.8,13.7 728.1,12.5 Z" fill="#bfe4f3"/>
<path d="M736.2,4.2 Q739.8,6.2 739.8,8.2 A2.3,2.3 0 0 1 735.3,8.4 Q735.2,6.4 736.2,4.2 Z" fill="#bfe4f3"/>
<text x="747.4" y="11.2" fill="#c9c9c9" textLength="76.6" lengthAdjust="spacingAndGlyphs">Created with</text>
<text x="828.4" y="11.2" fill="#ecbcbc" textLength="29.2" lengthAdjust="spacingAndGlyphs">Snap</text>
<text x="857.8" y="11.2" fill="#c9c9c9" textLength="33" lengthAdjust="spacingAndGlyphs">Gene</text>
<text x="890.9" y="7" fill="#c9c9c9" font-size="8.4">®</text>
</g>
</svg>
</body>
</html>
